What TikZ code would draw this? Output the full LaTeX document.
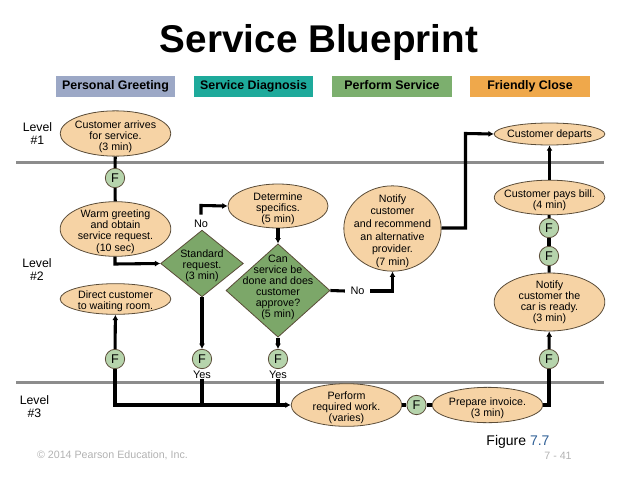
\documentclass[tikz,border=0pt]{standalone}
\usepackage{fontspec}
\setmainfont{Liberation Sans}
\usetikzlibrary{arrows.meta,shapes.geometric}
\definecolor{peach}{HTML}{F6D3A5}
\definecolor{leaf}{HTML}{7CA769}
\definecolor{pale}{HTML}{B6D4AC}
\definecolor{rim}{HTML}{5A4C38}
\tikzset{
  every label/.style={align=center,inner sep=0pt,yshift=-2pt,font=\fontsize{8pt}{8.3pt}\selectfont},
  stage/.style={ellipse,draw=rim,fill=peach,line width=.6pt,inner sep=0pt},
  wide/.style={stage,minimum width=83pt},
  test/.style={diamond,draw=rim,fill=leaf,line width=.6pt,inner sep=0pt},
  fail/.style={circle,draw=rim,fill=pale,line width=.6pt,inner sep=0pt,minimum size=14.5pt,font=\fontsize{9.5pt}{9.5pt}\selectfont},
  phase/.style={minimum width=89.5pt,minimum height=15.5pt,inner sep=0pt,text height=7pt,text depth=2pt,font=\fontsize{9.3pt}{9.3pt}\selectfont\bfseries},
  level/.style={align=center,inner sep=0pt,font=\fontsize{9.2pt}{9.8pt}\selectfont},
  answer/.style={inner xsep=4pt,inner ysep=0pt,font=\fontsize{8.2pt}{8.2pt}\selectfont},
  flow/.style={line width=2.3pt},
  go/.style={flow,-{Latex[length=4pt,width=4.5pt]}},
}
\begin{document}
\begin{tikzpicture}[x=.75pt,y=-.75pt]
	\useasboundingbox (0,0) rectangle (638,478);
	\node[font=\fontsize{29pt}{29pt}\selectfont\bfseries] (title) at (319,43) {Service Blueprint};
	% phases
	\node[phase,fill={rgb,255:red,156;green,168;blue,198}] (greeting) at (115.5,86.5) {Personal Greeting};
	\node[phase,fill={rgb,255:red,30;green,170;blue,155}] (diagnosis) at (253.5,86.5) {Service Diagnosis};
	\node[phase,fill={rgb,255:red,124;green,175;blue,110}] (perform) at (392,86.5) {Perform Service};
	\node[phase,fill={rgb,255:red,239;green,168;blue,75}] (close) at (530,86.5) {Friendly Close};
	% level lines
	\coordinate (lineAl) at (16,162.5);
	\coordinate (lineAr) at (604,162.5);
	\coordinate (lineBl) at (16,382.5);
	\coordinate (lineBr) at (604,382.5);
	\draw[line width=2.2pt,gray!90](lineAl) -- (lineAr);
	\draw[line width=2.2pt,gray!90](lineBl) -- (lineBr);
	\node[level] (levelA) at (37.5,134) {Level\\\#1};
	\node[level] (levelB) at (37,270) {Level\\\#2};
	\node[level] (levelC) at (34.5,407) {Level\\\#3};
	% ellipses
	\node[wide,minimum height=34pt,label={[yshift=-.7pt]center:{Customer arrives\\for service.\\(3 min)}}] (arrives) at (115.5,133.5) {};
	\node[wide,minimum height=41pt,label=center:{Warm greeting\\and obtain\\service request.\\(10 sec)}] (warm) at (115.5,229) {};
	\node[wide,minimum height=23pt,label=center:{Direct customer\\to waiting room.}] (direct) at (115.5,299) {};
	\node[stage,minimum width=75pt,minimum height=33pt,label=center:{Determine\\specifics.\\(5 min)}] (specifics) at (278,206) {};
	\node[stage,minimum width=73pt,minimum height=64pt,label={[font=\fontsize{8pt}{9.5pt}\selectfont]center:{Notify\\customer\\and recommend\\an alternative\\provider.\\(7 min)}}] (alternative) at (392.5,228.5) {};
	\node[wide,minimum height=16.5pt,label={[yshift=1.3pt]center:{Customer departs}}] (departs) at (549.5,134) {};
	\node[wide,minimum height=26pt,label={[yshift=-.4pt]center:{Customer pays bill.\\(4 min)}}] (pays) at (549.5,197.5) {};
	\node[wide,minimum height=43.5pt,label={[yshift=2pt]center:{Notify\\customer the\\car is ready.\\(3 min)}}] (ready) at (549.5,302) {};
	\node[wide,minimum height=32pt,label=center:{Perform\\required work.\\(varies)}] (work) at (346.5,405) {};
	\node[wide,minimum height=26.5pt,label={[yshift=-.4pt]center:{Prepare invoice.\\(3 min)}}] (invoice) at (487.5,405) {};
	% diamonds
	\node[test,minimum width=62pt,minimum height=50pt,label=center:{Standard\\request.\\(3 min)}] (standard) at (202,263.5) {};
	\node[test,minimum width=78pt,minimum height=70pt,label={[yshift=4.2pt]center:{Can\\service be\\done and does\\customer\\approve?\\(5 min)}}] (approve) at (278,290.5) {};
	% F circles
	\node[fail] (failA) at (115,178) {F};
	\node[fail] (failB) at (115,359) {F};
	\node[fail] (failC) at (202,359) {F};
	\node[fail] (failD) at (278,359) {F};
	\node[fail] (failE) at (416.5,405) {F};
	\node[fail] (failF) at (549,228) {F};
	\node[fail] (failG) at (549,256) {F};
	\node[fail] (failH) at (549,359) {F};
	% answers
	\node[answer,inner ysep=4pt] (noA) at (201,224) {No};
	\node[answer] (noB) at (357.5,291) {No};
	\node[answer] (yesA) at (202,375) {Yes};
	\node[answer] (yesB) at (278,375) {Yes};
	% bends
	\coordinate (bendA) at (115,264);
	\coordinate (bendB) at (201,205.5);
	\coordinate (bendC) at (392.5,291);
	\coordinate (bendD) at (465.5,228);
	\coordinate (bendE) at (465.5,133.5);
	\coordinate (bendF) at (115,405);
	\coordinate (joinA) at (202,405);
	\coordinate (joinB) at (278,405);
	\coordinate (bendG) at (549,405);
	% connectors
	\draw[flow](arrives) -- (failA);
	\draw[flow](failA) -- (warm);
	\draw[go](warm.south -| bendA) -- (bendA) -- (standard.west);
	\draw[go](noA.north) -- (bendB) -- (specifics.west);
	\draw[go](specifics) -- (approve);
	\draw[flow](approve.east) -- (noB.west);
	\draw[go](noB.east) -- (bendC) -- (alternative.south);
	\draw[go](alternative.east |- bendD) -- (bendD) -- (bendE) -- (departs.west);
	\draw[go](pays) -- (departs);
	\draw[flow](pays) -- (failF);
	\draw[flow](failF) -- (failG);
	\draw[flow](failG) -- (ready);
	\draw[go](failH) -- (ready);
	\draw[go](standard) -- (failC);
	\draw[go](approve) -- (failD);
	\draw[go](failB) -- (direct);
	\draw[go](failB) -- (bendF) -- (work.west);
	\draw[flow](yesA.south) -- (joinA);
	\draw[flow](yesB.south) -- (joinB);
	\draw[flow](work) -- (failE);
	\draw[flow](failE) -- (invoice);
	\draw[flow](invoice.east) -- (bendG) -- (failH);
	% footer
	\node[font=\fontsize{10.5pt}{10.5pt}\selectfont] (figure) at (518,442) {Figure \textcolor[RGB]{47,95,150}{7.7}};
	\node[font=\fontsize{8pt}{8pt}\selectfont,text=black!30] (copy) at (112.5,455.5) {© 2014 Pearson Education, Inc.};
	\node[font=\fontsize{8pt}{8pt}\selectfont,text=black!30] (page) at (558,455.5) {7 - 41};
\end{tikzpicture}
\end{document}
